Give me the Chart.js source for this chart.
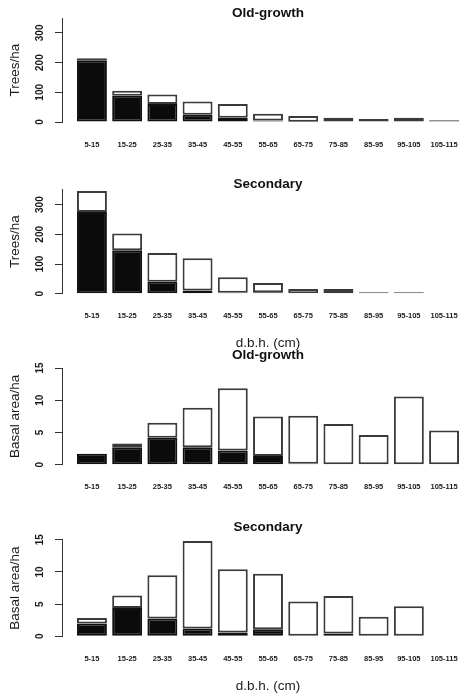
<!DOCTYPE html>
<html>
<head>
<meta charset="utf-8">
<script src="https://cdn.jsdelivr.net/npm/chart.js@4.4.1/dist/chart.umd.min.js"></script>
<style>
  html, body { margin: 0; padding: 0; background: #fff; }
  body { width: 474px; height: 697px; position: relative; overflow: hidden; }
  .panel { position: absolute; left: 0; width: 474px; }
</style>
</head>
<body>
<div class="panel" style="top:0;height:170px"><canvas id="treesOld"></canvas></div>
<div class="panel" style="top:170px;height:182px"><canvas id="treesSec"></canvas></div>
<div class="panel" style="top:345px;height:165px"><canvas id="basalOld"></canvas></div>
<div class="panel" style="top:510px;height:187px"><canvas id="basalSec"></canvas></div>

<script>
// diameter classes (cm)
const dbhClasses = ['5-15', '15-25', '25-35', '35-45', '45-55', '55-65', '65-75', '75-85', '85-95', '95-105', '105-115'];

// trees per ha: total bar height and the black (lower) part
const treesOldTotal = [215, 105, 93, 69, 61, 28, 20, 14, 10, 14, 6];
const treesOldBlack = [208, 88, 61, 24, 14, 5, 1, 0, 0, 0, 0];
const treesSecTotal = [346, 203, 137, 119, 55, 36, 16, 16, 5, 5, 0];
const treesSecBlack = [275, 146, 40, 11, 3, 5, 0, 2, 0, 0, 0];

// basal area per ha
const basalOldTotal = [1.7, 3.3, 6.5, 8.85, 11.85, 7.5, 7.6, 6.3, 4.6, 10.6, 5.3];
const basalOldBlack = [1.7, 2.7, 4.2, 2.7, 2.2, 1.35, 0.15, 0, 0, 0, 0];
const basalSecTotal = [2.85, 6.35, 9.5, 14.8, 10.4, 9.7, 5.4, 6.25, 3.05, 4.65, 0];
const basalSecBlack = [2.0, 4.4, 2.75, 1.2, 0.6, 1.1, 0, 0.45, 0, 0, 0];

// y ticks
const treesTicks = [0, 50, 100, 150, 200, 250, 300, 350];
const treesTickLabels = ['0', '', '100', '', '200', '', '300', ''];
const basalTicks = [0, 5, 10, 15];
const basalTickLabels = ['0', '5', '10', '15'];

const FONT = "'Liberation Sans', Arial, sans-serif";
const INK = '#1a1a1a';

function buildPanel(id, p) {
  const ctx = document.getElementById(id);
  return new Chart(ctx, {
    type: 'bar',
    data: {
      datasets: [
        {
          data: p.black.map((v, i) => ({ x: i, y: v })),
          backgroundColor: '#0b0b0b',
          borderColor: '#111',
          borderWidth: 2,
          borderSkipped: false,
          stack: 'a'
        },
        {
          // white part on top = total minus black
          data: p.total.map((v, i) => ({ x: i, y: v - p.black[i] })),
          backgroundColor: '#fff',
          borderColor: '#3a3a3a',
          borderWidth: 2,
          borderSkipped: false,
          stack: 'a'
        }
      ]
    },
    options: {
      responsive: true,
      maintainAspectRatio: false,
      animation: false,
      events: [],
      layout: { padding: 0 },
      categoryPercentage: 1,
      barPercentage: 0.85,
      plugins: {
        legend: { display: false },
        tooltip: { enabled: false },
        title: {
          display: true,
          text: p.title,
          fullSize: false,
          color: '#111',
          font: { family: FONT, size: 13.5, weight: 'bold', lineHeight: 0.7 },
          padding: { top: p.titlePad[0], bottom: p.titlePad[1] }
        }
      },
      scales: {
        x: {
          type: 'linear',
          min: -0.85,
          max: 10.85,
          offset: false,
          grid: { display: false, offset: false },
          border: { display: false },
          ticks: {
            stepSize: 1,
            includeBounds: false,
            autoSkip: false,
            maxRotation: 0,
            padding: 10,
            color: INK,
            font: { family: FONT, size: 7.5, weight: 'bold' },
            callback: v => Number.isInteger(v) ? dbhClasses[v] : ''
          },
          title: {
            display: !!p.xTitle,
            text: 'd.b.h. (cm)',
            color: INK,
            font: { family: FONT, size: 13.5 },
            padding: { top: 0, bottom: p.xTitlePad || 0 }
          },
          afterFit: s => { s.height = p.xHeight; }
        },
        y: {
          min: 0,
          max: p.ticks[p.ticks.length - 1],
          stacked: true,
          grid: { drawOnChartArea: false, tickLength: 7, color: '#333', lineWidth: 1 },
          border: { display: true, color: '#333', width: 1 },
          ticks: {
            stepSize: p.ticks[1] - p.ticks[0],
            minRotation: 90,
            maxRotation: 90,
            crossAlign: 'center',
            padding: p.yPad,
            color: INK,
            font: { family: FONT, size: 10, weight: 'bold' },
            callback: v => {
              const k = p.ticks.indexOf(v);
              return k >= 0 ? p.tickLabels[k] : '';
            }
          },
          title: {
            display: true,
            text: p.yTitle,
            color: INK,
            font: { family: FONT, size: 13.5 },
            padding: { top: 6.9, bottom: 0 }
          },
          afterFit: s => { s.width = 62; }
        }
      }
    }
  });
}

buildPanel('treesOld', {
  title: 'Old-growth', yTitle: 'Trees/ha',
  total: treesOldTotal, black: treesOldBlack,
  ticks: treesTicks, tickLabels: treesTickLabels,
  titlePad: [8.3, 0.3], xHeight: 48, yPad: 6
});
buildPanel('treesSec', {
  title: 'Secondary', yTitle: 'Trees/ha',
  total: treesSecTotal, black: treesSecBlack,
  ticks: treesTicks, tickLabels: treesTickLabels,
  titlePad: [10, 0.3], xHeight: 58.3, yPad: 6,
  xTitle: true, xTitlePad: 0.5
});
buildPanel('basalOld', {
  title: 'Old-growth', yTitle: 'Basal area/ha',
  total: basalOldTotal, black: basalOldBlack,
  ticks: basalTicks, tickLabels: basalTickLabels,
  titlePad: [6, 7.6], xHeight: 45.3, yPad: 8.7
});
buildPanel('basalSec', {
  title: 'Secondary', yTitle: 'Basal area/ha',
  total: basalSecTotal, black: basalSecBlack,
  ticks: basalTicks, tickLabels: basalTickLabels,
  titlePad: [12.6, 7.7], xHeight: 60.7, yPad: 8.7,
  xTitle: true, xTitlePad: 2.9
});
</script>
</body>
</html>
